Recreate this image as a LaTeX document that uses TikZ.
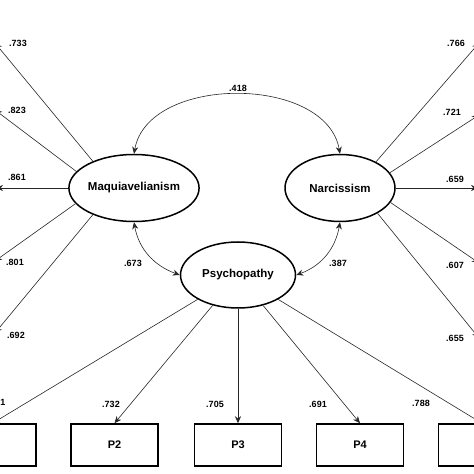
\documentclass[tikz,border=0pt]{standalone}
\usepackage{fontspec}
\setmainfont{Liberation Sans}
\usetikzlibrary{shapes.geometric,arrows.meta}

\begin{document}
\begin{tikzpicture}[x = 1pt, y = 1pt,
  latent/.style = {ellipse, draw, line width = 1.5pt, minimum width = 108pt,
    minimum height = 67pt, inner sep = 0pt, font = \fontsize{11.5}{13}\selectfont\bfseries},
  indic/.style = {rectangle, draw, line width = 1.5pt, minimum width = 87pt,
    minimum height = 42pt, font = \fontsize{11}{13}\selectfont\bfseries},
  coef/.style = {font = \fontsize{9}{10}\selectfont\bfseries},
  load/.style = {line width = 0.6pt, color = black!85, -{Stealth[length = 7pt, width = 6pt]}},
  covar/.style = {line width = 0.6pt, color = black!85,
    {Stealth[length = 7pt, width = 6pt]}-{Stealth[length = 7pt, width = 6pt]}}]
\useasboundingbox (0, 0) rectangle (474, 474);

% latent factors
\node[latent] (mach) at (134, 286) {Maquiavelianism};
\node[latent, minimum width = 110pt] (narc) at (340, 286) {Narcissism};
\node[latent, minimum width = 115pt, minimum height = 66pt] (psych) at (238, 199) {Psychopathy};

% observed items
\node[indic] (p1) at (-7.5, 29) {};
\node[indic] (p2) at (114.5, 29) {P2};
\node[indic] (p3) at (238, 29) {P3};
\node[indic] (p4) at (360, 29) {P4};
\node[indic] (p5) at (482, 29) {};

% items off the page
\coordinate (m1) at (-5, 431);
\coordinate (m2) at (-5, 364);
\coordinate (m3) at (-4, 286);
\coordinate (m4) at (-5, 213);
\coordinate (m5) at (-5, 141);
\coordinate (n1) at (479, 431);
\coordinate (n2) at (479, 359);
\coordinate (n3) at (478, 286);
\coordinate (n4) at (479, 211);
\coordinate (n5) at (479, 136);

\draw[load] (mach.147) -- (m1);
\draw[load] (mach.164) -- (m2);
\draw[load] (mach.180) -- (m3);
\draw[load] (mach.195) -- (m4);
\draw[load] (mach.213) -- (m5);
\draw[load] (narc.36) -- (n1);
\draw[load] (narc.17) -- (n2);
\draw[load] (narc.0) -- (n3);
\draw[load] (narc.-16) -- (n4);
\draw[load] (narc.-34) -- (n5);
\draw[load] (psych) -- (p1.north);
\draw[load] (psych) -- (p2.north);
\draw[load] (psych) -- (p3.north);
\draw[load] (psych) -- (p4.north);
\draw[load] (psych) -- (p5.north);

\draw[covar] (mach.north) to [out = 80, in = 100] (narc.north);
\draw[covar] (mach.south) to [out = -80, in = 160] (psych.west);
\draw[covar] (narc.south) to [out = -100, in = 20] (psych.east);

\node[coef] (c733) at (18, 431) {.733};
\node[coef] (c823) at (17, 364) {.823};
\node[coef] (c861) at (17, 297) {.861};
\node[coef] (c801) at (15, 212) {.801};
\node[coef] (c692) at (16, 139) {.692};
\node[coef] (c766) at (456, 431) {.766};
\node[coef] (c721) at (452, 362) {.721};
\node[coef] (c659) at (455, 295) {.659};
\node[coef] (c607) at (455, 209) {.607};
\node[coef] (c655) at (455, 136) {.655};
\node[coef] (c418) at (238, 386) {.418};
\node[coef] (c673) at (133, 211) {.673};
\node[coef] (c387) at (338, 211) {.387};
\node[coef] (c1) at (3, 72) {1};
\node[coef] (c732) at (111, 70) {.732};
\node[coef] (c705) at (215, 70) {.705};
\node[coef] (c691) at (318, 70) {.691};
\node[coef] (c788) at (421, 71) {.788};
\end{tikzpicture}
\end{document}
